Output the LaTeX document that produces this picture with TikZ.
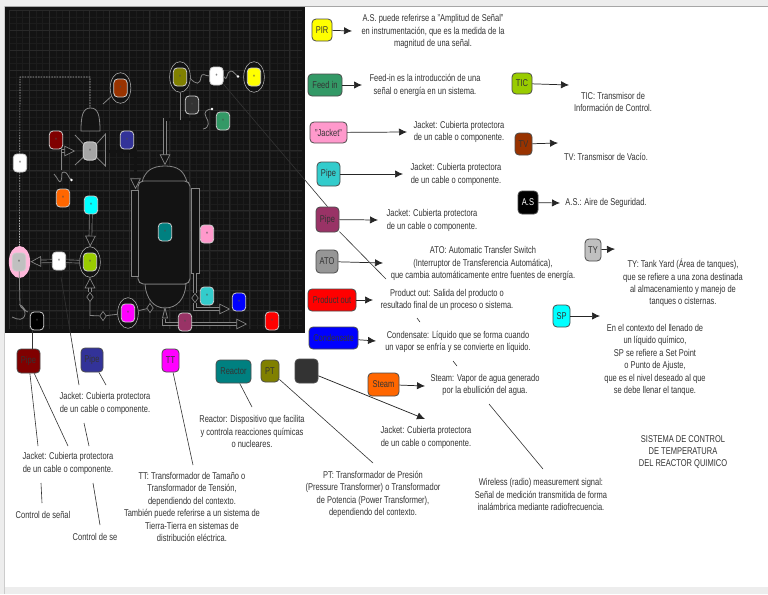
\documentclass[tikz,border=0pt]{standalone}
\usepackage{fontspec}
\setmainfont[FakeStretch=0.76]{Liberation Sans}
\usetikzlibrary{arrows.meta,shapes.geometric}
\definecolor{panelblack}{HTML}{131313}
\definecolor{pipegray}{HTML}{858585}
\definecolor{notegray}{HTML}{333333}
\definecolor{gridminor}{HTML}{1C1C1C}
\definecolor{gridmajor}{HTML}{292929}
\definecolor{cyellow}{HTML}{FFFF00}
\definecolor{cseagreen}{HTML}{339966}
\definecolor{cpink}{HTML}{FF99CC}
\definecolor{cturq}{HTML}{33CCCC}
\definecolor{cpurple}{HTML}{993366}
\definecolor{cgray}{HTML}{969696}
\definecolor{cred}{HTML}{FF0000}
\definecolor{cblue}{HTML}{0000FF}
\definecolor{cgreen}{HTML}{99CC00}
\definecolor{cbrown}{HTML}{993300}
\definecolor{clight}{HTML}{C0C0C0}
\definecolor{ccyan}{HTML}{00FFFF}
\definecolor{cdarkred}{HTML}{800000}
\definecolor{cnavy}{HTML}{333399}
\definecolor{cmagenta}{HTML}{FF00FF}
\definecolor{cteal}{HTML}{008080}
\definecolor{colive}{HTML}{808000}
\definecolor{cdark}{HTML}{333333}
\definecolor{corange}{HTML}{FF6600}
\tikzset{
  note/.style={align=center,text=notegray,inner sep=0pt,font=\fontsize{7.4pt}{9.3pt}\selectfont},
  tagbox/.style n args={3}{draw=black!70,line width=0.6pt,rounded corners=3pt,inner sep=0pt,
    minimum width=#1*0.75pt,minimum height=#2*0.75pt,fill=#3,text=black!80,font=\fontsize{7.4pt}{9pt}\selectfont},
  sym/.style={draw=white!80!black,line width=0.6pt,rounded corners=2.8pt,inner sep=0pt,
    minimum width=10pt,minimum height=13.5pt,fill=#1,font=\tiny,text=black!70},
  ring/.style={ellipse,draw=white!70!black,line width=0.4pt,fill=panelblack,inner sep=0pt,
    minimum width=15.5pt,minimum height=23pt},
  tagarrow/.style={draw=black!85,line width=0.55pt,-{Latex[length=6pt,width=5.5pt]}},
  leader/.style={draw=black!80,line width=0.45pt},
  pipe/.style={draw=pipegray,line width=0.5pt,double=panelblack,double distance=1.6pt},
  pipetip/.style={-{Triangle[open,length=8pt,width=8pt,line width=0.5pt,fill=panelblack]}},
  thin pipe/.style={draw=pipegray,line width=0.6pt},
  valve/.style={diamond,draw=pipegray,line width=0.5pt,fill=panelblack,inner sep=0pt,minimum width=5pt,minimum height=7pt},
  wave/.style={draw=pipegray,line width=0.6pt},
}
\begin{document}
\begin{tikzpicture}[x=0.75pt,y=-0.75pt]
    \useasboundingbox (0,0) rectangle (768,594);
    \fill[white] (0,0) rectangle (768,594);
    \fill[black!7] (0,0) rectangle (768,6);
    \fill[black!7] (0,0) rectangle (4,594);
    \fill[black!7] (0,587) rectangle (768,594);
    \draw[black!35,line width=0.5pt] (4,6) -- (768,6);
    \draw[black!20,line width=0.5pt] (4,6) -- (4,594);

%panel
    \fill[panelblack] (5,7) rectangle (305,333);
    \foreach \x in {9,15.7,...,302}
        \draw[gridminor,line width=0.3pt] (\x,10) -- (\x,329);
    \foreach \y in {10,16.7,...,329}
        \draw[gridminor,line width=0.3pt] (9,\y) -- (302,\y);
    \foreach \x in {9,29,...,302}
        \draw[gridmajor,line width=0.4pt] (\x,10) -- (\x,329);
    \foreach \y in {10,30,...,329}
        \draw[gridmajor,line width=0.4pt] (9,\y) -- (302,\y);

%reactor
    \draw[pipegray,fill=panelblack,line width=0.6pt] (142,182) .. controls (145,171) and (152,166) .. (165,166) .. controls (178,166) and (184,171) .. (187,182) -- cycle;
    \draw[pipegray,fill=panelblack,line width=0.6pt] (145,284) .. controls (146,299) and (154,308) .. (165,308) .. controls (177,308) and (185,299) .. (186,284) -- cycle;
    \draw[pipegray,fill=panelblack,line width=0.7pt,rounded corners=4pt] (138,181) rectangle (190,284);
    \draw[pipegray,fill=panelblack,line width=0.6pt] (131,190) rectangle (138,276);
    \draw[pipegray,fill=panelblack,line width=0.6pt] (191,188) rectangle (199,273);

%rings
    \node (brownring) [ring] at (120.5,88) {};
    \node (oliveing) [ring] at (180,77) {};
    \node (yellowring) [ring] at (254,77) {};
    \node (greenring) [ring] at (90,262) {};
    \node (magentaring) [ring] at (128,313) {};
    \node (pinkring) [ring,draw=none,fill=cpink!70!white,minimum width=16pt,minimum height=24pt] at (19.5,262) {};

%dashed signal
    \draw[white!70!black,dash pattern=on 1.2pt off 0.8pt,line width=0.5pt] (pinkring.north) -- (20,77) -- (90,77) -- (90,108);

%symbols
    \node (brownsym) [sym=cbrown] at (120.5,88) {*};
    \node (olivesym) [sym=colive] at (180,77) {*};
    \node (whitetop) [sym=white] at (216.5,76) {*};
    \node (yellowsym) [sym=cyellow] at (254,77) {*};
    \node (darksym) [sym=cdark] at (192,105) {*};
    \node (seasym) [sym=cseagreen] at (223,121) {*};
    \node (redsym) [sym=cdarkred] at (56,140) {*};
    \node (navysym) [sym=cnavy] at (127,140) {*};
    \node (whiteleft) [sym=white] at (20,163) {*};
    \node (orangesym) [sym=corange] at (63,198) {*};
    \node (cyansym) [sym=ccyan] at (91,205) {*};
    \node (tealsym) [sym=cteal] at (165,232) {*};
    \node (pinksym) [sym=cpink] at (207,234) {*};
    \node (turqsym) [sym=cturq] at (207,296) {*};
    \node (bluesym) [sym=cblue] at (239,302) {*};
    \node (redbottom) [sym=cred] at (272,321) {*};
    \node (blacksym) [sym=black] at (37,321) {*};

%valve
    \node (graysym) [sym=black!35] at (90,151) {};
    \draw[pipegray,fill=panelblack,line width=0.6pt] (81,131) .. controls (81,115) and (83,108) .. (90.5,108) .. controls (98,108) and (100,115) .. (100,131) -- cycle;
    \draw[pipegray,line width=0.6pt] (75,135) -- (graysym.center) -- (75,165);
    \draw[pipegray,line width=0.6pt] (105.5,134) -- (graysym.center) -- (105.5,166) -- cycle;
    \node [sym=black!35] at (graysym) {*};

%pipes
    \coordinate (redtee) at (61,151);
    \coordinate (valvein) at (75,151);
    \draw[pipe,pipetip] (redtee) -- (valvein);
    \draw[thin pipe] (redsym.south -| 61,0) -- (61,170);
    \draw[wave] (54,174) .. controls (58,178) and (59,184) .. (61,181) .. controls (63,176) and (60,172) .. (64,172) .. controls (68,172) and (68,178) .. (71.5,180);
    \fill[white] (71.5,180) circle (1pt);
    \coordinate (navyout) at (105.5,151.5);
    \coordinate (navyin) at (135.5,189);
    \draw[pipe,pipetip] (navyout) -- (135.5,151.5) -- (navyin);
    \coordinate (seaout) at (205,119.5);
    \coordinate (topin) at (165,165);
    \draw[pipe,pipetip] (seaout) -- (165,119.5) -- (topin);
    \draw[thin pipe] (oliveing) -- (oliveing |- seaout);
    \draw[wave] (203,129) .. controls (210,128) and (209,121) .. (206,117) .. controls (203,112) and (207,109) .. (212,109);
    \fill[white] (212,109) circle (1pt);
    \draw[wave] (oliveing) ++(10,1) .. controls (196,85) and (200,85) .. (201,77) .. controls (202,72) and (205,76) .. (whitetop.west);
    \coordinate (wavedot) at (238,76.5);
    \draw[wave] (whitetop.east) .. controls (228,84) and (226,70) .. (231,71) .. controls (234,71) and (235,75) .. (wavedot);
    \fill[white] (wavedot) circle (1pt);
    \draw[pipe,pipetip] (cyansym) -- (greenring);
    \node (whitemid) [sym=white] at (59,261) {*};
    \draw[pipe,pipetip] (whitemid) -- (pinkring);
    \draw[pipe] (greenring) -- (whitemid);
    \node (lightsym) [sym=clight] at (19,262) {*};
    \node (greensym) [sym=cgreen] at (90,262) {*};
    \node (greenvalve) [valve] at (90,297) {};
    \draw[pipe,pipetip] (greenvalve) -- (greenring);
    \node (feedvalve) [valve] at (103,316) {};
    \draw[thin pipe] (greenvalve) -- (90,315.5) -- (feedvalve) -- (magentaring);
    \node (outvalve) [valve] at (150,308) {};
    \draw[thin pipe] (magentaring) -- (outvalve);
    \node (jacketvalve) [valve] at (195,298) {};
    \draw[pipe] (195,273) -- (jacketvalve);
    \coordinate (jacketout) at (230,309);
    \draw[pipe,pipetip] (195,303) -- (195,309) -- (jacketout);
    \coordinate (bottomtip) at (165,308);
    \draw[pipegray,line width=0.6pt,fill=panelblack] (bottomtip) -- (162.5,318) -- (167.5,318) -- cycle;
    \coordinate (productout) at (247,324);
    \draw[pipe,pipetip] (164,319) -- (164,324) -- (productout);
    \draw[thin pipe] (lightsym) -- (20,305);
    \draw[wave] (12,317) .. controls (18,320) and (24,321) .. (25,314) .. controls (26,309) and (20,308) .. (20,305) .. controls (23,305) and (25,312) .. (28,312);
    \draw[thin pipe] (brownring) -- (103,104);
    \node (magentasym) [sym=cmagenta] at (128,313) {*};
    \node (purplesym) [sym=cpurple] at (185,322) {*};

%tags right of the panel
    \node (pirbox) [tagbox={20}{22}{cyellow}] at (322,30) {PIR};
    \coordinate (pirend) at (352,31);
    \draw[tagarrow] (pirbox) -- (pirend);
    \node (pirnote) [note] at (433,31.5) {A.S. puede referirse a "Amplitud de Señal"\\en instrumentación, que es la medida de la\\magnitud de una señal.};

    \node (feedbox) [tagbox={34}{22}{cseagreen}] at (325,85) {Feed in};
    \coordinate (feedend) at (362,85);
    \draw[tagarrow] (feedbox) -- (feedend);
    \node (feednote) [note] at (425,85.5) {Feed-in es la introducción de una\\señal o energía en un sistema.};

    \node (jacketbox) [tagbox={37}{21}{cpink}] at (328.5,132.5) {"Jacket"};
    \coordinate (jacketend) at (407,132);
    \draw[tagarrow] (jacketbox) -- (jacketend);
    \node (jacketnote) [note] at (459,132) {Jacket: Cubierta protectora\\de un cable o componente.};

    \node (pipebox) [tagbox={23}{24}{cturq}] at (328.5,174) {Pipe};
    \coordinate (pipeend) at (403,174);
    \draw[tagarrow] (pipebox) -- (pipeend);
    \node (pipenote) [note] at (456,174.5) {Jacket: Cubierta protectora\\de un cable o componente.};

    \node (purplebox) [tagbox={23}{25}{cpurple}] at (327.5,219.5) {Pipe};
    \coordinate (purpleend) at (378,220);
    \draw[tagarrow] (purplebox) -- (purpleend);
    \node (purplenote) [note] at (432,220.5) {Jacket: Cubierta protectora\\de un cable o componente.};

    \node (atobox) [tagbox={22}{23}{cgray}] at (327,261.5) {ATO};
    \coordinate (atoend) at (383,263);
    \draw[tagarrow] (atobox) -- (atoend);
    \node (atonote) [note] at (483,263.5) {ATO: Automatic Transfer Switch\\(Interruptor de Transferencia Automática),\\que cambia automáticamente entre fuentes de energía.};

    \node (productbox) [tagbox={48}{22}{cred}] at (332,300) {Product out};
    \coordinate (productend) at (373,300);
    \draw[tagarrow] (productbox) -- (productend);
    \node (productnote) [note] at (447,300) {Product out: Salida del producto o\\resultado final de un proceso o sistema.};

    \node (condbox) [tagbox={49}{22}{cblue}] at (333.5,338) {Condensate};
    \coordinate (condend) at (376,341);
    \draw[tagarrow] (condbox) -- (condend);
    \node (condnote) [note] at (458,342) {Condensate: Líquido que se forma cuando\\un vapor se enfría y se convierte en líquido.};

    \node (ticbox) [tagbox={20}{21}{cgreen}] at (522,83.5) {TIC};
    \coordinate (ticend) at (569,85);
    \draw[tagarrow] (ticbox) -- (ticend);
    \node (ticnote) [note] at (613,102) {TIC: Transmisor de\\Información de Control.};

    \node (tvbox) [tagbox={17}{22}{cbrown}] at (523.5,144) {TV};
    \coordinate (tvend) at (558,143);
    \draw[tagarrow] (tvbox) -- (tvend);
    \node (tvnote) [note] at (606,157) {TV: Transmisor de Vacío.};

    \node (asbox) [tagbox={20}{23}{black},text=white] at (528,202.5) {A.S};
    \coordinate (asend) at (560,203);
    \draw[tagarrow] (asbox) -- (asend);
    \node (asnote) [note] at (606,203) {A.S.: Aire de Seguridad.};

    \node (tybox) [tagbox={16}{22}{clight}] at (593,250) {TY};
    \coordinate (tyend) at (615,249);
    \draw[tagarrow] (tybox) -- (tyend);
    \node (tynote) [note] at (683,283) {TY: Tank Yard (Área de tanques),\\que se refiere a una zona destinada\\al almacenamiento y manejo de\\tanques o cisternas.};

    \node (spbox) [tagbox={17}{22}{ccyan}] at (561.5,316) {SP};
    \coordinate (spend) at (600,316);
    \draw[tagarrow] (spbox) -- (spend);
    \node (spnote) [note] at (655,360) {En el contexto del llenado de\\un líquido químico,\\SP se refiere a Set Point\\o Punto de Ajuste,\\que es el nivel deseado al que\\se debe llenar el tanque.};

    \node (titlenote) [note] at (683,452) {SISTEMA DE CONTROL\\DE TEMPERATURA\\DEL REACTOR QUIMICO};

%tags below the panel
    \node (darkredbox) [tagbox={23}{24}{cdarkred}] at (28.5,361) {Pipe};
    \node (navybox) [tagbox={22}{24}{cnavy}] at (92,360) {Pipe};
    \node (ttbox) [tagbox={17}{23}{cmagenta}] at (170.5,360.5) {TT};
    \node (reactorbox) [tagbox={35}{23}{cteal}] at (233.5,371.5) {Reactor};
    \node (ptbox) [tagbox={18}{22}{colive}] at (270,371) {PT};
    \node (darkbox) [tagbox={23}{24}{cdark}] at (306.5,371) {Pipe};
    \node (steambox) [tagbox={31}{23}{corange}] at (383.5,384.5) {Steam};
    \coordinate (steamend) at (425,386);
    \draw[tagarrow] (steambox) -- (steamend);
    \coordinate (darkend) at (425,419);
    \draw[tagarrow] (darkbox) -- (darkend);

    \node (navynote) [note] at (105,403.5) {Jacket: Cubierta protectora\\de un cable o componente.};
    \node (redsnote) [note] at (68,463.5) {Jacket: Cubierta protectora\\de un cable o componente.};
    \node (signalone) [note] at (43,515) {Control de señal};
    \node (signaltwo) [note] at (95,537) {Control de se};
    \node (ttnote) [note] at (192,507) {TT: Transformador de Tamaño o\\Transformador de Tensión,\\dependiendo del contexto.\\También puede referirse a un sistema de\\Tierra-Tierra en sistemas de\\distribución eléctrica.};
    \node (reactornote) [note] at (252,431.5) {Reactor: Dispositivo que facilita\\y controla reacciones químicas\\o nucleares.};
    \node (ptnote) [note] at (373,494.5) {PT: Transformador de Presión\\(Pressure Transformer) o Transformador\\de Potencia (Power Transformer),\\dependiendo del contexto.};
    \node (darknote) [note] at (426,437.5) {Jacket: Cubierta protectora\\de un cable o componente.};
    \node (steamnote) [note] at (485,385) {Steam: Vapor de agua generado\\por la ebullición del agua.};
    \node (wirelessnote) [note] at (541,494.5) {Wireless (radio) measurement signal:\\Señal de medición transmitida de forma\\inalámbrica mediante radiofrecuencia.};

%leaders
    \coordinate (wa) at (386,279);
    \draw[leader] (whitetop) -- (purplebox.north);
    \draw[leader] (purplebox) -- (wa);
    \draw[leader] (32,330) -- (darkredbox.north -| 32,0);
    \coordinate (whiteend) at (79,385);
    \draw[leader] (61,277) -- (whiteend);
    \coordinate (navyend) at (106,385);
    \draw[leader] (navybox) -- (navyend);
    \coordinate (ra) at (38,446);
    \coordinate (rb) at (68,446);
    \draw[leader] (darkredbox) -- (ra);
    \draw[leader] (darkredbox) -- (rb);
    \coordinate (na) at (84,423);
    \coordinate (nb) at (89,446);
    \draw[leader] (na) -- (nb);
    \coordinate (sa) at (41,483);
    \coordinate (sb) at (42,503);
    \draw[leader] (sa) -- (sb);
    \coordinate (sc) at (93,483);
    \coordinate (sd) at (100,525);
    \draw[leader] (sc) -- (sd);
    \coordinate (ttend) at (193,465);
    \draw[leader] (ttbox) -- (ttend);
    \coordinate (reactorend) at (252,407);
    \draw[leader] (reactorbox) -- (reactorend);
    \coordinate (ptend) at (373,463);
    \draw[leader] (ptbox) -- (ptend);
    \coordinate (oa) at (417,318);
    \coordinate (ob) at (420,322);
    \draw[leader] (oa) -- (ob);
    \coordinate (oc) at (453,361);
    \coordinate (od) at (457,366);
    \draw[leader] (oc) -- (od);
    \coordinate (wstart) at (489,404);
    \coordinate (wend) at (543,469);
    \draw[leader] (wstart) -- (wend);
\end{tikzpicture}
\end{document}
